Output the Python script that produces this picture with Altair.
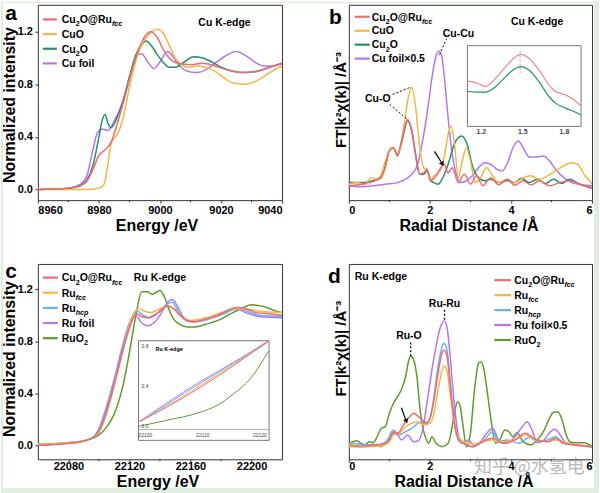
import altair as alt
import pandas as pd

FONT = "Liberation Sans"
RED, YEL, TEAL, PUR, BLUE, OLIVE = "#ef6b73", "#f1b745", "#22906f", "#b776ec", "#63b5ea", "#609b2c"
EDGE = "#dcefdc"

# ---------------- a: Cu K-edge XANES ----------------
a_x_red = [8960, 8970, 8974, 8976, 8978, 8980, 8982, 8984, 8986, 8988, 8990, 8992, 8994, 8996, 8997,
           8999, 9001, 9003, 9006, 9010, 9014, 9018, 9022, 9027, 9032, 9036, 9040]
a_y_red = [0.0, 0.01, 0.03, 0.06, 0.15, 0.26, 0.30, 0.36, 0.50, 0.66, 0.84, 1.00, 1.12, 1.19, 1.20,
           1.16, 1.07, 1.00, 0.96, 0.95, 0.96, 0.94, 0.91, 0.89, 0.90, 0.93, 0.96]
a_x_cuo = [8960, 8975, 8980, 8981.5, 8983, 8984, 8985, 8986, 8988, 8990, 8992, 8994, 8996, 8998, 8999.5,
           9001, 9003, 9005, 9007, 9009, 9012, 9015, 9018, 9021, 9024, 9028, 9032, 9036, 9040]
a_y_cuo = [0.0, 0.0, 0.01, 0.03, 0.20, 0.35, 0.39, 0.42, 0.55, 0.78, 0.97, 1.10, 1.17, 1.21, 1.22,
           1.19, 1.10, 1.00, 0.95, 0.93, 0.94, 0.93, 0.90, 0.85, 0.81, 0.80, 0.83, 0.89, 0.94]
a_x_cu2o = [8960, 8970, 8974, 8976, 8978, 8980, 8981, 8982, 8983, 8984, 8985, 8986, 8988, 8990, 8992,
            8994, 8995.5, 8997, 8999, 9001, 9003, 9005, 9008, 9011, 9014, 9017, 9020, 9024, 9028, 9032,
            9036, 9040]
a_y_cu2o = [0.0, 0.01, 0.03, 0.07, 0.18, 0.40, 0.52, 0.57, 0.50, 0.47, 0.50, 0.55, 0.68, 0.86, 1.02,
            1.10, 1.13, 1.10, 1.03, 0.97, 0.93, 0.93, 0.97, 1.01, 1.00, 0.97, 0.93, 0.90, 0.89, 0.90,
            0.93, 0.96]
a_x_foil = [8960, 8970, 8974, 8976, 8978, 8979.5, 8981, 8983, 8985, 8987, 8989, 8991, 8993, 8994, 8996,
            8998, 9000, 9002.5, 9004, 9006, 9009, 9012, 9015, 9018, 9021, 9025, 9028, 9031, 9034, 9037,
            9040]
a_y_foil = [0.0, 0.01, 0.04, 0.10, 0.30, 0.43, 0.46, 0.45, 0.52, 0.62, 0.76, 0.93, 1.03, 1.03, 0.97,
            0.92, 0.97, 1.05, 1.02, 0.95, 0.90, 0.89, 0.91, 0.96, 1.01, 1.05, 1.02, 0.97, 0.94, 0.94,
            0.96]
a_ticks = [8960, 8980, 9000, 9020, 9040]
a_minor = [8970, 8990, 9010, 9030]
a_yticks = [0.0, 0.4, 0.8, 1.2]

# ---------------- b: Cu K-edge FT-EXAFS ----------------
b_x_red = [0, 0.25, 0.5, 0.65, 0.8, 0.92, 1.0, 1.1, 1.2, 1.3, 1.45, 1.55, 1.65, 1.75, 1.85, 1.93, 2.02,
           2.12, 2.25, 2.35, 2.45, 2.55, 2.7, 2.85, 3.0, 3.15, 3.3, 3.5, 3.7, 3.9, 4.1, 4.3, 4.5, 4.7,
           4.95, 5.2, 5.45, 5.7, 6.0]
b_y_red = [0.72, 0.77, 0.88, 0.97, 1.13, 1.8, 2.47, 2.63, 2.27, 2.97, 4.05, 3.55, 2.3, 1.3, 1.38, 1.55,
           0.97, 1.13, 1.55, 1.8, 1.38, 1.63, 0.88, 1.3, 0.8, 1.22, 0.72, 1.13, 0.77, 1.05, 0.75, 0.97,
           0.77, 0.97, 0.72, 0.88, 0.97, 0.8, 0.63]
b_x_cu2o = [0, 0.3, 0.5, 0.7, 0.85, 1.0, 1.1, 1.2, 1.3, 1.45, 1.55, 1.65, 1.75, 1.85, 1.93, 2.02, 2.1,
            2.2, 2.3, 2.45, 2.6, 2.78, 2.92, 3.05, 3.2, 3.35, 3.5, 3.7, 3.9, 4.1, 4.25, 4.45, 4.65,
            4.85, 5.05, 5.25, 5.45, 5.7, 6.0]
b_y_cu2o = [0.88, 0.88, 0.93, 1.05, 1.38, 2.5, 2.63, 2.22, 2.88, 3.97, 3.47, 2.22, 1.3, 1.3, 1.47,
            0.97, 0.88, 0.8, 1.05, 1.8, 2.8, 3.22, 2.8, 1.72, 1.13, 0.97, 1.05, 0.88, 0.97, 0.88, 1.1,
            0.88, 1.05, 0.83, 1.05, 0.83, 1.05, 0.8, 0.6]
b_x_cuo = [0, 0.2, 0.4, 0.55, 0.7, 0.8, 0.9, 1.05, 1.15, 1.22, 1.35, 1.45, 1.55, 1.65, 1.75, 1.85,
           1.93, 2.0, 2.1, 2.25, 2.35, 2.45, 2.52, 2.6, 2.7, 2.8, 2.9, 3.0, 3.12, 3.25, 3.4, 3.55, 3.7,
           3.9, 4.1, 4.3, 4.5, 4.7, 4.9, 5.1, 5.3, 5.5, 5.65, 5.8, 6.0]
b_y_cuo = [0.8, 0.88, 0.8, 1.13, 1.05, 1.3, 1.97, 2.63, 2.47, 2.33, 3.63, 4.97, 5.67, 4.63, 2.63,
           1.63, 1.55, 0.97, 1.22, 1.47, 2.13, 3.3, 3.72, 2.97, 1.13, 1.97, 2.63, 1.97, 0.88, 1.13,
           1.63, 1.22, 0.88, 1.05, 0.88, 1.13, 1.22, 1.05, 1.22, 1.47, 1.72, 1.88, 1.8, 1.3, 0.83]
b_x_foil = [0, 0.3, 0.6, 0.9, 1.2, 1.4, 1.55, 1.7, 1.82, 1.95, 2.05, 2.15, 2.22, 2.28, 2.35, 2.45,
            2.55, 2.65, 2.75, 2.9, 3.05, 3.2, 3.35, 3.5, 3.65, 3.78, 3.9, 4.05, 4.18, 4.3, 4.45, 4.6,
            4.8, 4.95, 5.1, 5.3, 5.5, 5.75, 6.0]
b_y_foil = [0.72, 0.67, 0.72, 0.8, 0.88, 1.05, 1.3, 1.8, 2.97, 4.63, 6.13, 7.22, 7.47, 7.33, 6.3,
            4.13, 2.3, 1.3, 0.88, 0.97, 1.22, 1.63, 1.88, 1.8, 1.55, 1.47, 1.8, 2.63, 2.97, 2.63,
            2.17, 2.17, 2.22, 1.97, 1.55, 1.13, 0.88, 0.77, 0.72]
r_ticks = [0, 2, 4, 6]
r_minor = [1, 3, 5]

# inset of b: zoom on the Cu-O shell
bi_x = [1.10, 1.172, 1.232, 1.304, 1.376, 1.448, 1.484, 1.544, 1.616, 1.688, 1.736, 1.808, 1.868, 1.916]
bi_y_red = [1.37, 1.30, 1.20, 1.45, 1.80, 2.10, 2.17, 2.05, 1.70, 1.25, 1.05, 0.95, 0.80, 0.63]
bi_y_cu2o = [1.05, 1.03, 1.03, 1.20, 1.50, 1.75, 1.80, 1.70, 1.35, 0.90, 0.70, 0.55, 0.45, 0.35]
bi_ticks = [1.2, 1.5, 1.8]
bi_mark = [1.48]

# ---------------- c: Ru K-edge XANES ----------------
c_x_red = [22060, 22075, 22085, 22092, 22097, 22100, 22104, 22108, 22112, 22116, 22120, 22123, 22125,
           22128, 22132, 22136, 22140, 22145, 22149, 22153, 22158, 22163, 22170, 22178, 22185, 22190,
           22196, 22203, 22212, 22220]
c_y_red = [0.0, 0.01, 0.02, 0.04, 0.07, 0.11, 0.22, 0.38, 0.56, 0.74, 0.90, 0.99, 1.01, 0.99, 0.98,
           1.00, 1.03, 1.07, 1.05, 1.00, 0.96, 0.95, 0.97, 1.00, 1.04, 1.06, 1.05, 1.02, 1.01, 1.00]
c_x_fcc = [22060, 22080, 22092, 22097, 22100, 22104, 22108, 22112, 22116, 22120, 22123, 22126, 22130,
           22134, 22140, 22145, 22150, 22155, 22160, 22170, 22180, 22188, 22195, 22205, 22220]
c_y_fcc = [0.01, 0.02, 0.04, 0.07, 0.10, 0.21, 0.37, 0.55, 0.74, 0.92, 1.02, 1.05, 1.03, 1.02, 1.05,
           1.07, 1.04, 0.98, 0.96, 0.98, 1.02, 1.05, 1.05, 1.03, 1.02]
c_x_hcp = [22060, 22080, 22092, 22097, 22100, 22104, 22108, 22112, 22116, 22120, 22123, 22125, 22129,
           22133, 22138, 22144, 22148, 22152, 22157, 22163, 22172, 22182, 22190, 22197, 22205, 22220]
c_y_hcp = [0.0, 0.02, 0.04, 0.07, 0.12, 0.24, 0.40, 0.58, 0.77, 0.93, 1.01, 1.03, 1.00, 0.98, 1.01,
           1.08, 1.10, 1.03, 0.96, 0.95, 0.97, 1.01, 1.05, 1.03, 1.00, 0.99]
c_x_foil = [22060, 22080, 22092, 22097, 22100, 22104, 22108, 22112, 22116, 22120, 22123, 22125, 22128,
            22132, 22136, 22141, 22145, 22148, 22151, 22155, 22160, 22168, 22178, 22186, 22190, 22196,
            22205, 22220]
c_y_foil = [0.0, 0.02, 0.04, 0.07, 0.13, 0.26, 0.42, 0.60, 0.79, 0.94, 1.00, 0.99, 0.94, 0.92, 0.94,
            1.02, 1.10, 1.12, 1.08, 0.99, 0.95, 0.96, 1.00, 1.04, 1.05, 1.02, 0.99, 0.98]
c_x_ruo2 = [22060, 22080, 22092, 22097, 22100, 22105, 22110, 22113, 22116, 22119, 22122, 22125, 22128,
            22132, 22135, 22138, 22140, 22143, 22146, 22149, 22153, 22158, 22163, 22170, 22178, 22186,
            22193, 22200, 22207, 22214, 22220]
c_y_ruo2 = [0.0, 0.02, 0.04, 0.06, 0.08, 0.14, 0.24, 0.34, 0.47, 0.65, 0.85, 1.05, 1.18, 1.18, 1.16,
            1.18, 1.19, 1.14, 1.04, 0.97, 0.93, 0.91, 0.91, 0.93, 0.96, 1.01, 1.05, 1.08, 1.07, 1.04,
            1.02]
c_ticks = [22080, 22120, 22160, 22200]
c_minor = [22100, 22140, 22180]

# inset of c: the rising edge
ci_x = [22098.8, 22103.7, 22109.6, 22115.4, 22121.5]
ci_y_red = [0.073, 0.222, 0.421, 0.637, 0.879]
ci_y_fcc = [0.073, 0.229, 0.438, 0.647, 0.881]
ci_y_hcp = [0.073, 0.246, 0.461, 0.660, 0.883]
ci_y_foil = [0.073, 0.262, 0.478, 0.670, 0.886]
ci_x_ruo2 = [22098.8, 22103.7, 22109.6, 22112.5, 22115.4, 22118.3, 22121.5]
ci_y_ruo2 = [0.03, 0.09, 0.172, 0.239, 0.355, 0.505, 0.78]
ci_xticks = [22100, 22110, 22120]
ci_yticks = [0.0, 0.4, 0.8]

# ---------------- d: Ru K-edge FT-EXAFS ----------------
d_x_ruo2 = [0, 0.1, 0.2, 0.3, 0.4, 0.5, 0.6, 0.7, 0.8, 0.9, 1.0, 1.1, 1.2, 1.3, 1.4, 1.48, 1.53, 1.6,
            1.68, 1.75, 1.82, 1.9, 1.97, 2.05, 2.15, 2.3, 2.45, 2.55, 2.62, 2.68, 2.75, 2.82, 2.9, 3.0,
            3.1, 3.2, 3.25, 3.32, 3.42, 3.52, 3.62, 3.72, 3.85, 3.95, 4.05, 4.15, 4.3, 4.5, 4.65, 4.8,
            4.95, 5.05, 5.15, 5.25, 5.35, 5.45, 5.6, 5.8, 6.0]
d_y_ruo2 = [0.8, 0.88, 0.93, 0.8, 0.72, 0.88, 0.83, 1.13, 1.55, 1.63, 2.3, 2.8, 3.13, 3.5, 4.13, 4.97,
            5.17, 4.97, 4.13, 2.63, 1.63, 1.05, 0.8, 1.13, 0.8, 0.63, 0.8, 1.63, 2.47, 2.88, 2.63, 1.63,
            0.63, 1.3, 3.47, 4.8, 4.88, 4.63, 3.3, 1.8, 0.8, 0.97, 1.47, 1.38, 1.13, 1.33, 0.88, 0.72,
            0.97, 1.38, 2.05, 2.35, 2.38, 2.05, 1.3, 0.88, 0.83, 0.83, 0.63]
d_x_foil = [0, 0.3, 0.6, 0.85, 1.0, 1.1, 1.2, 1.3, 1.45, 1.6, 1.72, 1.82, 1.95, 2.05, 2.15, 2.25, 2.35,
            2.42, 2.5, 2.6, 2.7, 2.8, 2.95, 3.1, 3.25, 3.4, 3.55, 3.7, 3.9, 4.1, 4.28, 4.4, 4.52, 4.65,
            4.8, 4.95, 5.08, 5.2, 5.35, 5.6, 6.0]
d_y_foil = [0.72, 0.63, 0.67, 0.8, 1.0, 1.3, 1.22, 0.97, 1.22, 0.88, 0.93, 1.47, 3.13, 4.47, 5.63,
            6.55, 6.92, 6.63, 5.13, 2.8, 1.22, 0.8, 0.97, 0.67, 0.88, 1.3, 1.55, 0.97, 0.8, 1.13, 1.63,
            1.88, 1.47, 0.83, 0.93, 1.33, 1.5, 1.27, 0.83, 0.72, 0.63]
d_x_hcp = [0, 0.3, 0.6, 0.8, 0.95, 1.1, 1.25, 1.4, 1.55, 1.7, 1.85, 1.95, 2.05, 2.2, 2.3, 2.35, 2.42,
           2.52, 2.62, 2.72, 2.85, 3.05, 3.3, 3.55, 3.7, 3.9, 4.2, 4.45, 4.7, 4.9, 5.1, 5.3, 5.6, 6.0]
d_y_hcp = [0.8, 0.75, 0.72, 0.63, 0.97, 1.47, 1.22, 1.38, 1.55, 1.8, 1.92, 1.8, 2.47, 4.63, 5.63, 5.8,
           5.47, 3.47, 1.63, 0.93, 0.77, 0.63, 0.88, 1.38, 0.88, 0.97, 0.8, 1.1, 0.88, 0.97, 1.13, 0.8,
           0.72, 0.63]
d_x_red = [0, 0.3, 0.6, 0.85, 1.0, 1.1, 1.2, 1.35, 1.5, 1.6, 1.7, 1.8, 1.9, 2.0, 2.1, 2.2, 2.3, 2.35,
           2.42, 2.52, 2.62, 2.72, 2.85, 3.05, 3.3, 3.55, 3.8, 4.1, 4.35, 4.6, 4.9, 5.1, 5.3, 5.6, 6.0]
d_y_red = [0.72, 0.67, 0.72, 0.77, 0.97, 1.38, 1.3, 1.72, 2.13, 2.3, 2.17, 1.97, 1.8, 2.05, 2.97, 4.3,
           5.3, 5.47, 5.17, 3.3, 1.63, 0.93, 0.77, 0.63, 0.88, 1.05, 0.8, 0.97, 1.3, 1.0, 0.88, 1.05,
           0.8, 0.72, 0.63]
d_x_fcc = [0, 0.4, 0.8, 1.0, 1.1, 1.25, 1.4, 1.55, 1.7, 1.85, 2.0, 2.1, 2.2, 2.3, 2.35, 2.42, 2.52,
           2.62, 2.75, 2.9, 3.1, 3.3, 3.55, 3.8, 4.1, 4.35, 4.6, 4.9, 5.1, 5.4, 6.0]
d_y_fcc = [0.63, 0.63, 0.67, 0.88, 1.22, 1.3, 1.63, 1.8, 1.88, 1.72, 1.8, 2.3, 3.47, 4.43, 4.67, 4.43,
           2.97, 1.55, 1.0, 0.83, 0.77, 0.88, 0.97, 0.88, 0.97, 1.22, 0.97, 0.88, 0.97, 0.8, 0.63]

# Arial-bold advance widths (em) used to place sub-scripts after a run of text
ADV = {"C": .722, "u": .611, "O": .778, "@": .975, "R": .722, " ": .278, "f": .333, "o": .611,
       "i": .278, "l": .278, "×": .584, "0": .556, ".": .278, "5": .556, "2": .556, "c": .556,
       "h": .611, "p": .611}


def width_of(s, size):
    return sum(ADV.get(ch, 0.6) for ch in s) * size


def txt(s, x, y, size=10.5, align="left", baseline="alphabetic", style="normal", weight="bold",
        color="black", font=FONT, opacity=1.0):
    return alt.Chart().mark_text(text=s, align=align, baseline=baseline, fontSize=size,
                                 fontStyle=style, fontWeight=weight, color=color, font=font,
                                 opacity=opacity).encode(x=alt.value(x), y=alt.value(y))


def seg(x1, y1, x2, y2, color="black", width=1.0, dash=None):
    kw = dict(color=color, strokeWidth=width)
    if dash:
        kw["strokeDash"] = dash
    return alt.Chart().mark_rule(**kw).encode(x=alt.value(x1), y=alt.value(y1),
                                              x2=alt.value(x2), y2=alt.value(y2))


def box(x1, y1, x2, y2, fill, stroke=None, width=1.0):
    kw = dict(fill=fill)
    if stroke:
        kw.update(stroke=stroke, strokeWidth=width)
    return alt.Chart().mark_rect(**kw).encode(x=alt.value(x1), y=alt.value(y1),
                                              x2=alt.value(x2), y2=alt.value(y2))


def head(x, y, angle):
    return alt.Chart().mark_point(shape="triangle", angle=angle, filled=True, size=28,
                                  color="black", opacity=1).encode(x=alt.value(x), y=alt.value(y))


def rich(pieces, x, y, size=10.5):
    out, cx = [], x
    for s, kind in pieces:
        fs = size if kind == "n" else size * 0.68
        dy = 0 if kind == "n" else size * 0.3
        style = "italic" if kind == "i" else "normal"
        out.append(txt(s, cx, y + dy, size=fs, style=style))
        cx += width_of(s, fs)
    return out


def legend(entries, rows, x0, x1, xt, size=10.5):
    out = []
    for (pieces, col), yy in zip(entries, rows):
        out.append(seg(x0, yy, x1, yy, color=col, width=2.2))
        out += rich(pieces, xt, yy + 0.36 * size, size)
    return out


def curve(xs, ys, color, xsc, ysc, xax, yax, width=1.5):
    df = pd.DataFrame({"x": xs, "y": ys})
    return alt.Chart(df).mark_line(color=color, strokeWidth=width, interpolate="monotone").encode(
        x=alt.X("x:Q", scale=xsc, axis=xax), y=alt.Y("y:Q", scale=ysc, axis=yax))


def minor(vals, xsc, xax, h):
    return alt.Chart(pd.DataFrame({"x": vals})).mark_rule(color="#333", strokeWidth=1).encode(
        x=alt.X("x:Q", scale=xsc, axis=xax), y=alt.value(h), y2=alt.value(h + 2))


def x_axis(vals, title, tx, ty, lp):
    return alt.Axis(values=vals, format="d", title=title, titleFontSize=16, titleX=tx, titleY=ty,
                    titleBaseline="alphabetic", labelBaseline="alphabetic", labelPadding=lp)


def y_axis_xanes(ty):
    return alt.Axis(values=a_yticks, format=".1f", title="Normalized intensity", titleFontSize=16,
                    titleX=-23, titleY=ty, titleAngle=270, titleBaseline="alphabetic",
                    labelPadding=2.5)


def y_axis_ft(ty):
    return alt.Axis(labels=False, ticks=False, title="FT|k²χ(k)| /Å⁻³", titleFontSize=15,
                    titleX=-3.5, titleY=ty, titleAngle=270, titleBaseline="alphabetic")


CU2O_RU = [("Cu", "n"), ("2", "s"), ("O@Ru", "n"), ("fcc", "i")]

# ---------------- panel a ----------------
W1, W2, H = 245, 244, 196
ax_x = alt.Scale(domain=[8960, 9040], nice=False, zero=False)
ax_y = alt.Scale(domain=[-0.081, 1.405], nice=False, zero=False)
axa_x = x_axis(a_ticks, "Energy /eV", 119, 30, 10)
axa_y = y_axis_xanes(100)
pa_layers = [
    box(-37, -3, -35, 490, EDGE), box(-37, -3, 563, -1.5, EDGE),
    box(558, -3, 563, 490, EDGE), box(-37, 485, 563, 490, EDGE),
    curve(a_x_foil, a_y_foil, PUR, ax_x, ax_y, axa_x, axa_y),
    curve(a_x_cu2o, a_y_cu2o, TEAL, ax_x, ax_y, axa_x, axa_y),
    curve(a_x_cuo, a_y_cuo, YEL, ax_x, ax_y, axa_x, axa_y),
    curve(a_x_red, a_y_red, RED, ax_x, ax_y, axa_x, axa_y),
    minor(a_minor, ax_x, axa_x, H),
    txt("a", -27, 15, size=21, align="center"),
    txt("Cu K-edge", 161, 21.5),
]
pa_layers += legend([(CU2O_RU, RED), ([("CuO", "n")], YEL), ([("Cu", "n"), ("2", "s"), ("O", "n")], TEAL),
                     ([("Cu foil", "n")], PUR)], [14.7, 29.4, 44.1, 58.8], 5, 19, 24)
pa = alt.layer(*pa_layers).properties(width=W1, height=H)

# ---------------- panel b ----------------
bx = alt.Scale(domain=[0, 6], nice=False, zero=False)
by = alt.Scale(domain=[0, 9.8], nice=False, zero=False)
axb_x = x_axis(r_ticks, "Radial Distance /Å", 120, 30, 10)
axb_y = y_axis_ft(95)
pb_main = [
    curve(b_x_foil, b_y_foil, PUR, bx, by, axb_x, axb_y),
    curve(b_x_cu2o, b_y_cu2o, TEAL, bx, by, axb_x, axb_y),
    curve(b_x_cuo, b_y_cuo, YEL, bx, by, axb_x, axb_y),
    curve(b_x_red, b_y_red, RED, bx, by, axb_x, axb_y),
    minor(r_minor, bx, axb_x, H),
    txt("b", -13.5, 19.7, size=21, align="center"),
    txt("Cu K-edge", 162.7, 20.7),
    txt("Cu-Cu", 110, 29, align="center", baseline="middle"),
    txt("Cu-O", 29, 95, align="center", baseline="middle"),
    seg(91, 50, 98, 34, dash=[2, 2]), seg(44, 90, 61, 83, dash=[2, 2]), seg(41, 100, 59, 115, dash=[2, 2]),
    seg(86, 147, 92.5, 157.5, width=1.2), head(93.5, 159, 148),
]
pb_main += legend([(CU2O_RU, RED), ([("CuO", "n")], YEL), ([("Cu", "n"), ("2", "s"), ("O", "n")], TEAL),
                   ([("Cu foil×0.5", "n")], PUR)], [12, 26, 40, 54], 6, 21, 23)
bix = alt.Scale(domain=[1.1, 1.92], range=[119, 233], nice=False, zero=False)
biy = alt.Scale(domain=[0, 2.43], range=[122, 41], nice=False, zero=False)
pb_inset = [
    box(119, 41, 233, 122, "white", stroke="#777", width=1),
    curve(bi_x, bi_y_red, "#ea8a8c", bix, biy, None, None, width=1.2),
    curve(bi_x, bi_y_cu2o, TEAL, bix, biy, None, None, width=1.2),
    alt.Chart(pd.DataFrame({"x": bi_mark, "y": [2.25], "y2": [1.6]})).mark_rule(
        color="#aaa", strokeDash=[2, 2], strokeWidth=1).encode(
        x=alt.X("x:Q", scale=bix, axis=None), y=alt.Y("y:Q", scale=biy, axis=None), y2="y2:Q"),
    alt.Chart(pd.DataFrame({"x": bi_ticks})).mark_text(
        font=FONT, fontSize=7, fontWeight="bold", color="#444", baseline="top").encode(
        x=alt.X("x:Q", scale=bix, axis=None), y=alt.value(124), text=alt.Text("x:Q", format=".1f")),
]
pb = alt.layer(alt.layer(*pb_main), alt.layer(*pb_inset)).resolve_scale(
    x="independent", y="independent").properties(width=W2, height=H)

# ---------------- panel c ----------------
cx = alt.Scale(domain=[22060, 22220], nice=False, zero=False)
cy = alt.Scale(domain=[-0.107, 1.394], nice=False, zero=False)
axc_x = x_axis(c_ticks, "Energy /eV", 120, 27, 7.5)
axc_y = y_axis_xanes(95)
pc_main = [
    curve(c_x_ruo2, c_y_ruo2, OLIVE, cx, cy, axc_x, axc_y),
    curve(c_x_foil, c_y_foil, PUR, cx, cy, axc_x, axc_y),
    curve(c_x_hcp, c_y_hcp, BLUE, cx, cy, axc_x, axc_y),
    curve(c_x_fcc, c_y_fcc, YEL, cx, cy, axc_x, axc_y),
    curve(c_x_red, c_y_red, RED, cx, cy, axc_x, axc_y),
    minor(c_minor, cx, axc_x, H),
    txt("c", -27, 14, size=21, align="center"),
    txt("Ru K-edge", 96.3, 16.7),
]
pc_main += legend([(CU2O_RU, RED), ([("Ru", "n"), ("fcc", "i")], YEL), ([("Ru", "n"), ("hcp", "i")], BLUE),
                   ([("Ru foil", "n")], PUR), ([("RuO", "n"), ("2", "s")], OLIVE)],
                  [13.7, 28.9, 44.1, 59.3, 74.5], 5, 20, 24)
cix = alt.Scale(domain=[22098.8, 22121.6], range=[101, 232], nice=False, zero=False)
ciy = alt.Scale(domain=[0, 0.886], range=[166, 77], nice=False, zero=False)
pc_inset = [
    box(101, 77, 232, 177, "white", stroke="#777", width=1),
    seg(101, 166, 232, 166, color="#999", width=0.8),
    curve(ci_x_ruo2, ci_y_ruo2, OLIVE, cix, ciy, None, None, width=1),
    curve(ci_x, ci_y_foil, PUR, cix, ciy, None, None, width=1),
    curve(ci_x, ci_y_hcp, BLUE, cix, ciy, None, None, width=1),
    curve(ci_x, ci_y_fcc, YEL, cix, ciy, None, None, width=1),
    curve(ci_x, ci_y_red, RED, cix, ciy, None, None, width=1),
    alt.Chart(pd.DataFrame({"x": ci_xticks})).mark_text(
        font=FONT, fontSize=5, color="#444", baseline="top").encode(
        x=alt.X("x:Q", scale=cix, axis=None), y=alt.value(170), text=alt.Text("x:Q", format="d")),
    alt.Chart(pd.DataFrame({"y": ci_yticks})).mark_text(
        font=FONT, fontSize=5, color="#444", align="left", baseline="bottom").encode(
        y=alt.Y("y:Q", scale=ciy, axis=None), x=alt.value(104), text=alt.Text("y:Q", format=".1f")),
    txt("Ru K-edge", 118, 87, size=5.5),
]
pc = alt.layer(alt.layer(*pc_main), alt.layer(*pc_inset)).resolve_scale(
    x="independent", y="independent").properties(width=W1, height=H)

# ---------------- panel d ----------------
dx = alt.Scale(domain=[0, 6], nice=False, zero=False)
dy = alt.Scale(domain=[0, 9.77], nice=False, zero=False)
axd_x = x_axis(r_ticks, "Radial Distance /Å", 115, 27, 7.5)
axd_y = y_axis_ft(84.5)
pd_layers = [
    curve(d_x_ruo2, d_y_ruo2, OLIVE, dx, dy, axd_x, axd_y),
    curve(d_x_foil, d_y_foil, PUR, dx, dy, axd_x, axd_y),
    curve(d_x_hcp, d_y_hcp, BLUE, dx, dy, axd_x, axd_y),
    curve(d_x_fcc, d_y_fcc, YEL, dx, dy, axd_x, axd_y),
    curve(d_x_red, d_y_red, RED, dx, dy, axd_x, axd_y),
    minor(r_minor, dx, axd_x, H),
    txt("d", -14.5, 19, size=21, align="center"),
    txt("Ru K-edge", 6, 15.7),
    txt("Ru-Ru", 96, 40.3, align="center", baseline="middle"),
    txt("Ru-O", 60.3, 72, align="center", baseline="middle"),
    seg(96, 46, 96, 57.7, dash=[2, 2], width=1.3), seg(62, 78.7, 62, 93, dash=[2, 2], width=1.3),
    seg(52.7, 144.3, 56.8, 155.5, width=1.2), head(57.5, 157.2, 160),
    txt("知乎 @水氢电", 181, 205, size=18, align="center", baseline="middle", weight="normal",
        color="#8a8a8a", font="Noto Sans CJK SC", opacity=0.6),
]
pd_layers += legend([(CU2O_RU, RED), ([("Ru", "n"), ("fcc", "i")], YEL), ([("Ru", "n"), ("hcp", "i")], BLUE),
                     ([("Ru foil×0.5", "n")], PUR), ([("RuO", "n"), ("2", "s")], OLIVE)],
                    [16.3, 31.3, 46.3, 61.3, 76.3], 146, 162.7, 166)
pd_chart = alt.layer(*pd_layers).properties(width=W2, height=H)

chart = alt.concat(pa, pb, pc, pd_chart, columns=2, spacing={"row": 64, "column": 67},
                   bounds="flush").properties(padding=0, background="white").configure_view(
    stroke="#333", strokeWidth=1).configure_axis(
    labelFont=FONT, titleFont=FONT, labelFontWeight="bold", titleFontWeight="bold", labelFontSize=11,
    labelColor="black", titleColor="black", tickColor="#333", tickSize=3, grid=False, domain=False)

chart.save("out.html", embed_options={"renderer": "svg", "actions": False})
